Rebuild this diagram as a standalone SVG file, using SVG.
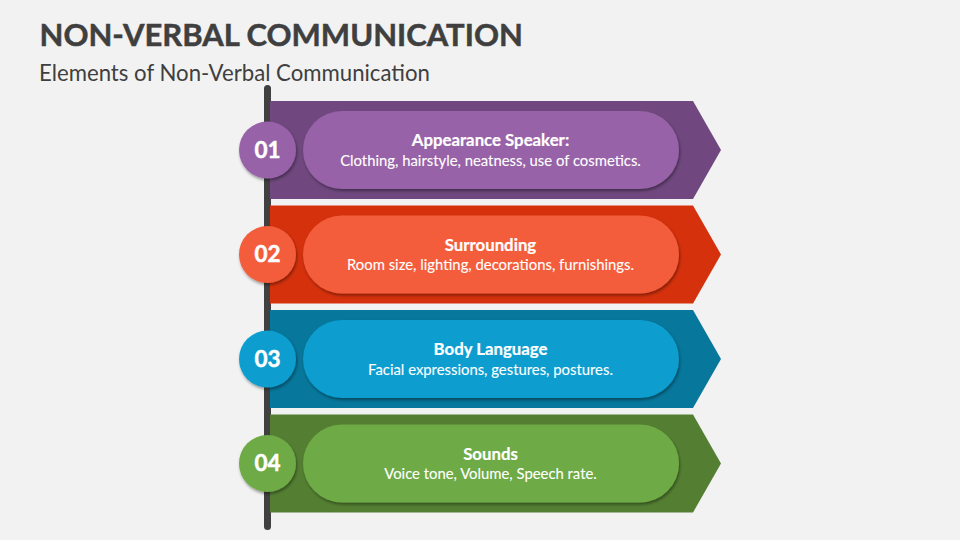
<svg xmlns="http://www.w3.org/2000/svg" width="960" height="540" viewBox="0 0 960 540">
<style>
text{font-family:Lato,"Liberation Sans",sans-serif;text-anchor:middle;fill:#fff}
.h{font-weight:700;font-size:16.800px;stroke:#fff;stroke-width:.2px}
.d{font-size:14.850px;stroke:#fff;stroke-width:.1px}
.n{font-weight:700;font-size:22.500px;stroke:#fff;stroke-width:.5px}
.t{text-anchor:start;fill:#3f3f3f}
.s{filter:url(#sh)}
</style>
<defs>
<filter id="sh" x="-20%" y="-20%" width="140%" height="140%"><feDropShadow dx="1" dy="2" stdDeviation="1.800" flood-color="#000" flood-opacity=".4"/></filter>
<path id="band" d="M270 0H693L721 49L693 98H270Z"/>
</defs>
<rect width="960" height="540" fill="#f2f2f2"/>
<text class="t" x="39.500" y="45.500" font-size="31" font-weight="700" stroke="#3f3f3f" stroke-width=".5">NON-VERBAL COMMUNICATION</text>
<text class="t" x="39" y="81" font-size="22.200">Elements of Non-Verbal Communication</text>
<g id="connectors"><path d="M267.500 88.500V526.500" stroke="#404040" stroke-width="7" stroke-linecap="round" fill="none"/></g>
<g id="node-01">
<use href="#band" y="101" fill="#70487f"/>
<rect class="s" x="303" y="111" width="376" height="78" rx="39" fill="#9762a7"/>
<circle class="s" cx="267.500" cy="150" r="28.500" fill="#9762a7"/>
<text class="n" x="267.500" y="157.500">01</text>
<text class="h" x="490.500" y="146">Appearance Speaker:</text>
<text class="d" x="490.500" y="165.500">Clothing, hairstyle, neatness, use of cosmetics.</text>
</g>
<g id="node-02">
<use href="#band" y="205.500" fill="#d5310d"/>
<rect class="s" x="303" y="215.500" width="376" height="78" rx="39" fill="#f45d3a"/>
<circle class="s" cx="267.500" cy="254.500" r="28.500" fill="#f45d3a"/>
<text class="n" x="267.500" y="262">02</text>
<text class="h" x="490.500" y="250.500">Surrounding</text>
<text class="d" x="490.500" y="270">Room size, lighting, decorations, furnishings.</text>
</g>
<g id="node-03">
<use href="#band" y="310" fill="#07779b"/>
<rect class="s" x="303" y="320" width="376" height="78" rx="39" fill="#099ecf"/>
<circle class="s" cx="267.500" cy="359" r="28.500" fill="#099ecf"/>
<text class="n" x="267.500" y="366.500">03</text>
<text class="h" x="490.500" y="355">Body Language</text>
<text class="d" x="490.500" y="374.500">Facial expressions, gestures, postures.</text>
</g>
<g id="node-04">
<use href="#band" y="414.500" fill="#547f33"/>
<rect class="s" x="303" y="424.500" width="376" height="78" rx="39" fill="#6eaa44"/>
<circle class="s" cx="267.500" cy="463.500" r="28.500" fill="#6eaa44"/>
<text class="n" x="267.500" y="471">04</text>
<text class="h" x="490.500" y="459.500">Sounds</text>
<text class="d" x="490.500" y="479">Voice tone, Volume, Speech rate.</text>
</g>
</svg>
